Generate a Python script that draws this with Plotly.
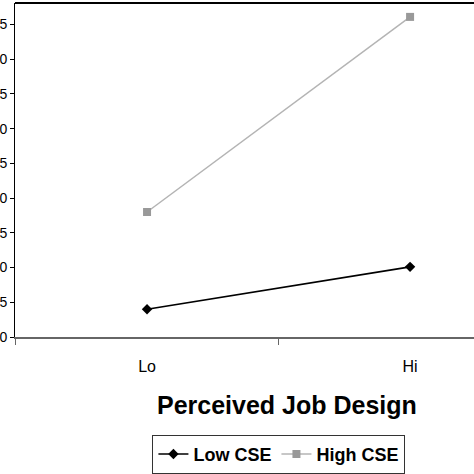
import plotly.graph_objects as go

categories = ["Lo", "Hi"]
low_cse = [1.40, 2.01]
high_cse = [2.80, 5.61]
y_ticks = [1.0, 1.5, 2.0, 2.5, 3.0, 3.5, 4.0, 4.5, 5.0, 5.5]
y_labels = [f"{v:.1f}" for v in y_ticks]

xpos = list(range(len(categories)))

fig = go.Figure()
fig.add_trace(go.Scatter(
    x=xpos, y=low_cse, name="Low CSE", mode="lines+markers",
    line=dict(color="black", width=1.6),
    marker=dict(symbol="diamond", size=8, color="black"),
))
fig.add_trace(go.Scatter(
    x=xpos, y=high_cse, name="High CSE", mode="lines+markers",
    line=dict(color="#b4b4b4", width=1.5),
    marker=dict(symbol="square", size=8, color="#999999"),
))

fig.update_layout(
    width=474, height=474,
    margin=dict(l=15, r=0, t=3, b=137, autoexpand=False),
    paper_bgcolor="white", plot_bgcolor="white",
    font=dict(family="Liberation Sans, Arial, sans-serif", color="black"),
    showlegend=True,
    legend=dict(
        orientation="h", x=0.575, xanchor="center", y=-0.293, yanchor="top",
        bordercolor="#333333", borderwidth=1,
        font=dict(size=18, color="black", family="Liberation Sans, Arial, sans-serif", weight="bold"),
        itemwidth=30, tracegroupgap=0,
    ),
    xaxis=dict(
        range=[-0.502, 1.243], tickvals=xpos, ticktext=categories,
        ticks="", showgrid=False, zeroline=False, automargin=False,
        showline=True, linecolor="#666666", linewidth=2,
        tickfont=dict(size=16), ticklabelstandoff=14,
        minor=dict(tickvals=[-0.5, 0.5, 1.5], ticks="outside", ticklen=6,
                   tickcolor="#666666", tickwidth=1, showgrid=False),
    ),
    yaxis=dict(
        range=[1.0, 5.81], tickvals=y_ticks, ticktext=y_labels,
        ticks="outside", ticklen=4, tickcolor="black", tickwidth=1,
        showgrid=False, zeroline=False, automargin=False,
        showline=True, linecolor="black", linewidth=1,
        tickfont=dict(size=14),
    ),
    shapes=[dict(type="line", xref="paper", yref="paper", x0=0, x1=1, y0=1, y1=1,
                 line=dict(color="black", width=2))],
    annotations=[dict(text="<b>Perceived Job Design</b>", xref="paper", yref="paper",
                      x=0.593, y=-0.204, xanchor="center", yanchor="middle",
                      showarrow=False, font=dict(size=25, color="black"))],
)

fig.write_html("out.html", config={"displayModeBar": False},
               post_script="document.body.style.margin='0';document.body.style.overflow='hidden';")
